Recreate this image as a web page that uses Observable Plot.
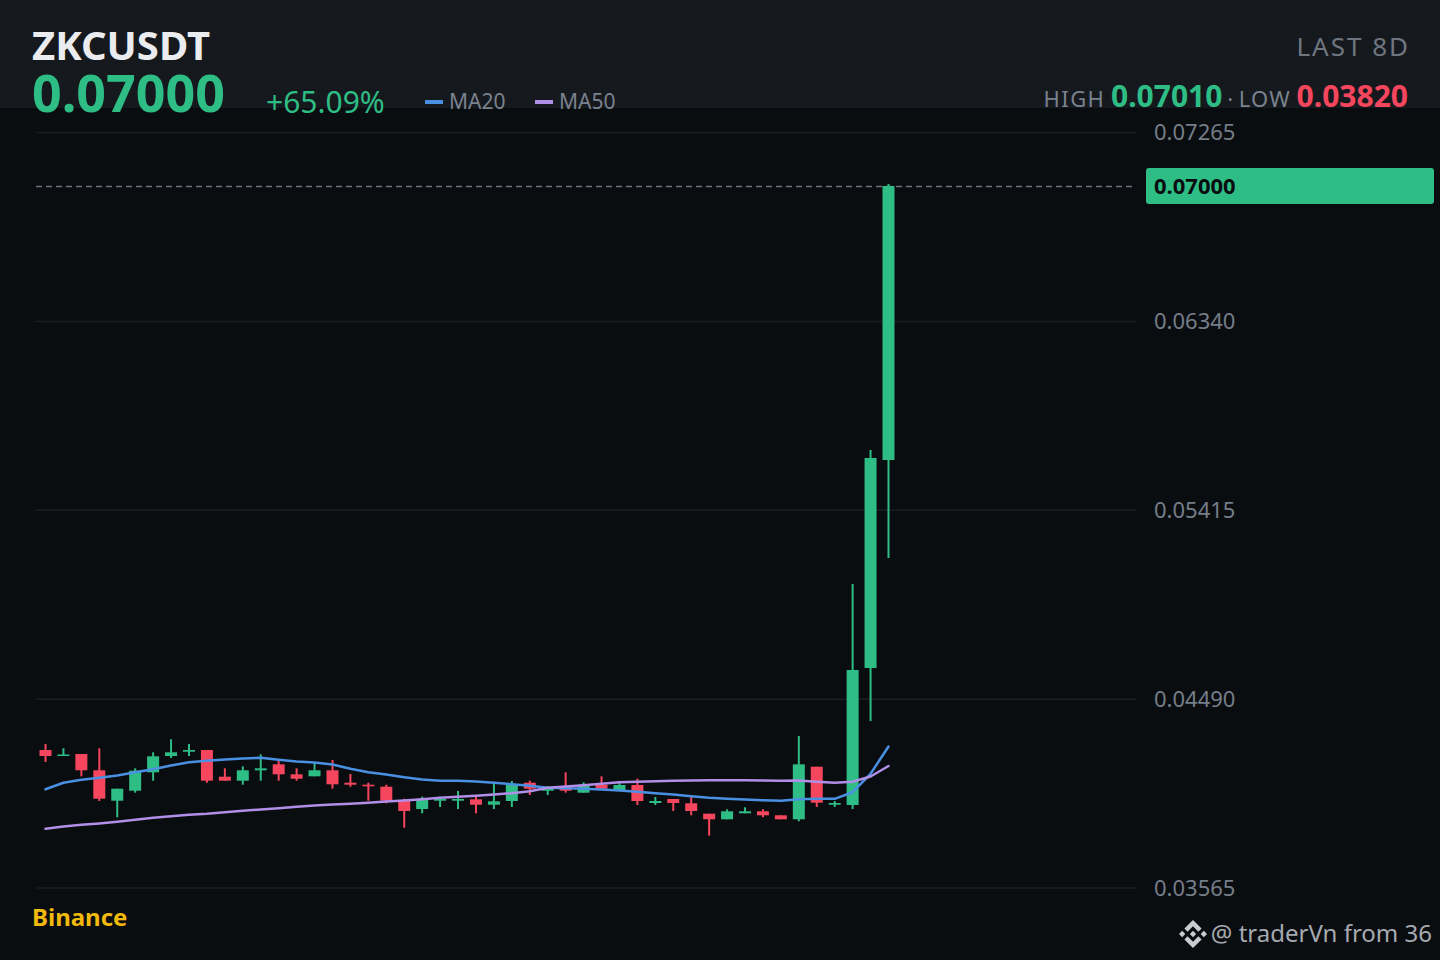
<!DOCTYPE html>
<html>
<head>
<meta charset="utf-8">
<script src="https://cdn.jsdelivr.net/npm/d3@7"></script>
<script src="https://cdn.jsdelivr.net/npm/@observablehq/plot@0.6"></script>
<style>
html,body{margin:0;padding:0;background:#0a0d10;}
#page{position:relative;width:1440px;height:960px;overflow:hidden;background:#0a0d10;font-family:"Noto Sans",sans-serif;}
#band{position:absolute;left:0;top:0;width:1440px;height:108px;background:#15191e;}
#chart{position:absolute;left:0;top:108px;}
#chart svg{display:block;}
.t{position:absolute;white-space:nowrap;line-height:1;z-index:2;}
.swatch{position:absolute;width:18px;height:4px;z-index:2;}
</style>
</head>
<body>
<div id="page">
  <div id="band"></div>
  <div id="chart"></div>
  <div class="t" style="left:32px;top:25px;font-size:40px;font-weight:700;color:#eaecef;">ZKCUSDT</div>
  <div class="t" style="left:32px;top:66px;font-size:52px;font-weight:700;color:#2ebd85;">0.07000</div>
  <div class="t" style="left:266px;top:87px;font-size:30px;color:#2ebd85;">+65.09%</div>
  <div class="swatch" style="left:425px;top:100px;background:#4a90e2;"></div>
  <div class="t" style="left:449px;top:91px;font-size:21px;color:#7a828e;">MA20</div>
  <div class="swatch" style="left:535px;top:100px;background:#b18ee8;"></div>
  <div class="t" style="left:559px;top:91px;font-size:21px;color:#7a828e;">MA50</div>
  <div class="t" style="right:30px;top:33px;font-size:26px;letter-spacing:2px;color:#6f7680;">LAST 8D</div>
  <div class="t" style="right:32px;top:81px;font-size:22px;color:#7a828e;"><span style="letter-spacing:1.4px">HIGH</span> <span style="font-size:30px;font-weight:700;color:#2ebd85;margin-right:-1px;">0.07010</span> · <span style="letter-spacing:1.2px">LOW</span> <span style="font-size:30px;font-weight:700;color:#f6465d;">0.03820</span></div>
  <div class="t" style="left:32px;top:905px;font-size:24px;font-weight:700;color:#f0b90b;">Binance</div>
  <div class="t" style="right:8px;top:921px;font-size:24px;color:#a6aab0;">@ traderVn from 36</div>
  <svg style="position:absolute;left:1179px;top:920px;z-index:2;" width="28" height="28" viewBox="0 0 24 24"><path fill="#c9ccd1" d="M16.624 13.9202l2.7175 2.7154-7.353 7.353-7.353-7.352 2.7175-2.7164 4.6355 4.6595 4.6356-4.6595zm4.6366-4.6366L24 12l-2.7154 2.7164L18.5682 12l2.6924-2.7164zm-9.272.001l2.7163 2.6914-2.7164 2.7174v-.001L9.2721 12l2.7164-2.7154zm-9.2722-.001L5.4088 12l-2.6914 2.6924L0 12l2.7164-2.7164zM11.9885.0115l7.353 7.329-2.7174 2.7154-4.6356-4.6356-4.6355 4.6595-2.7174-2.7154 7.353-7.353z"/></svg>
</div>
<script>
const opens = [.042384,.04209,.042188,.04139,.039901,.04039,.041292,.04209,.0423,.042384,.041076,.04088,.04139,.041683,.041193,.041096,.04139,.040782,.040684,.040586,.039901,.039494,.039901,.039901,.039969,.039705,.039886,.040782,.04039,.040586,.040293,.040684,.040425,.04067,.039788,.039984,.039773,.039264,.03899,.039284,.039382,.039186,.03899,.041566,.039705,.03969,.046399,.056586];
const highs = [.042678,.042467,.042188,.042467,.040488,.041487,.042271,.042908,.042678,.042384,.041487,.041585,.042173,.041894,.041487,.041781,.041894,.041208,.040782,.040684,.039999,.040097,.040097,.040376,.040165,.040831,.040865,.04088,.040586,.041292,.040802,.041096,.040782,.040978,.040082,.039984,.040082,.039264,.03948,.03958,.03948,.039186,.043069,.041566,.039886,.050513,.057076,.0701];
const lows = [.041796,.04209,.041096,.039886,.039088,.040293,.04088,.041992,.04209,.040782,.04088,.040684,.04088,.04088,.04088,.041096,.040488,.040586,.039901,.039773,.038578,.039284,.039592,.039494,.039284,.039494,.039592,.04018,.04018,.040293,.040293,.040488,.040425,.03969,.03969,.039396,.039186,.038187,.03899,.039284,.039088,.03899,.038892,.039592,.039592,.039494,.043804,.051786];
const closes = [.04209,.042163,.04139,.039999,.040488,.04137,.042075,.042271,.042384,.04088,.04088,.04139,.041487,.041193,.040978,.04139,.040704,.040684,.040606,.039901,.039396,.039999,.039984,.039984,.039705,.039871,.040684,.040488,.040586,.04039,.040684,.040488,.04067,.039886,.039886,.039788,.039396,.03899,.039382,.039382,.039186,.03899,.041683,.039803,.039788,.046301,.056684,.07];
const ma20 = [.040488,.040802,.040949,.041047,.041159,.041321,.041468,.041649,.041811,.041879,.041943,.041992,.042026,.041928,.041845,.041796,.041698,.041487,.041321,.041208,.041076,.040963,.0409,.0409,.040865,.040802,.040733,.040655,.040557,.040537,.040508,.040474,.040425,.040361,.040293,.040229,.040145,.040067,.040018,.039984,.03995,.03992,.039999,.040018,.040018,.040341,.041243,.042579];
const ma50 = [.038549,.038661,.038745,.038809,.038892,.03899,.039088,.039166,.039235,.039284,.039362,.039431,.039494,.039558,.039626,.03969,.039739,.039773,.039822,.039886,.039935,.039999,.040067,.040116,.040165,.040229,.040293,.04039,.040557,.040621,.040684,.040753,.040831,.040851,.04088,.0409,.040915,.040929,.040929,.040929,.040915,.0409,.040915,.040851,.040802,.040851,.04111,.041625];
const yTicks = [.03565,.0449,.05415,.0634,.07265];
const lastPrice = .07;

const GREEN = "#2ebd85", RED = "#f6465d", BLUE = "#4a90e2", PURPLE = "#b18ee8";
const candles = opens.map((o, i) => ({i, o, h: highs[i], l: lows[i], c: closes[i]}));
const color = d => d.c >= d.o ? GREEN : RED;
const lineData = a => a.map((v, i) => ({i, v}));

const priceTag = (index, {y}, values, {width, marginRight}) => {
  const g = d3.create("svg:g");
  const left = width - marginRight + 10;
  const cy = y(lastPrice);
  g.append("rect").attr("x", left).attr("y", cy - 18).attr("width", 288).attr("height", 36).attr("rx", 3).attr("fill", GREEN);
  g.append("text").attr("x", left + 8).attr("y", cy).attr("dy", "0.36em").attr("text-anchor", "start")
    .attr("font-size", 22).attr("font-weight", 700).attr("fill", "#0a0d10").text(lastPrice.toFixed(5));
  return g.node();
};

const chart = Plot.plot({
  width: 1440,
  height: 852,
  marginTop: 0,
  marginBottom: 0,
  marginLeft: 36,
  marginRight: 304,
  style: {background: "transparent", fontFamily: '"Noto Sans", sans-serif'},
  x: {domain: [0, 47], range: [45, 888], axis: null},
  y: {domain: [.03565, .07265], range: [779.5, 24]},
  marks: [
    Plot.gridY(yTicks, {stroke: "#1a1e23", strokeOpacity: 1, strokeWidth: 1.5}),
    Plot.axisY(yTicks, {anchor: "right", tickSize: 0, tickPadding: 17.5, dy: 0.5, label: null, fontSize: 22, color: "#757d88", fill: "#757d88", tickFormat: d => d.toFixed(5)}),
    Plot.ruleY([lastPrice], {stroke: "#6b727b", strokeWidth: 1.5, strokeDasharray: "6,4"}),
    Plot.ruleX(candles, {x: "i", y1: "l", y2: "h", stroke: color, strokeWidth: 2}),
    Plot.ruleX(candles, {x: "i", y1: "o", y2: "c", stroke: color, strokeWidth: 12}),
    Plot.line(lineData(ma20), {x: "i", y: "v", stroke: BLUE, strokeWidth: 2.5}),
    Plot.line(lineData(ma50), {x: "i", y: "v", stroke: PURPLE, strokeWidth: 2.5}),
    priceTag
  ]
});
document.getElementById("chart").appendChild(chart);
</script>
</body>
</html>
